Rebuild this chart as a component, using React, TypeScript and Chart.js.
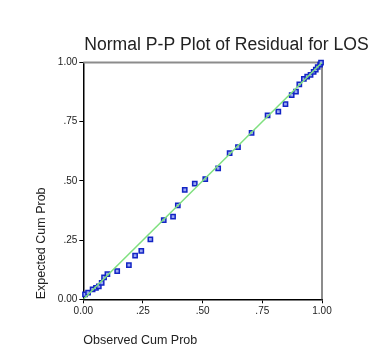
import React, { useEffect, useRef } from "react";
import { Chart, registerables } from "chart.js";

Chart.register(...registerables);

const TITLE = "Normal P-P Plot of Residual for LOS";
const X_TITLE = "Observed Cum Prob";
const Y_TITLE = "Expected Cum Prob";
const TICK_VALUES = [0, 0.25, 0.5, 0.75, 1];
const TICK_LABELS = ["0.00", ".25", ".50", ".75", "1.00"];

const OBSERVED = [
  0.007, 0.02, 0.039, 0.053, 0.065, 0.077, 0.087, 0.101, 0.142, 0.191,
  0.217, 0.243, 0.281, 0.337, 0.376, 0.396, 0.425, 0.467, 0.511, 0.565,
  0.613, 0.648, 0.705, 0.772, 0.817, 0.847, 0.873, 0.891, 0.905, 0.924,
  0.938, 0.952, 0.965, 0.974, 0.982, 0.992, 0.996,
];
const EXPECTED = [
  0.021, 0.028, 0.042, 0.048, 0.055, 0.069, 0.093, 0.106, 0.119, 0.144,
  0.184, 0.204, 0.253, 0.334, 0.349, 0.397, 0.462, 0.489, 0.508, 0.553,
  0.617, 0.643, 0.703, 0.777, 0.793, 0.824, 0.862, 0.877, 0.908, 0.931,
  0.94, 0.948, 0.96, 0.97, 0.981, 0.991, 0.999,
];
const LINE_X = [0, 1];
const LINE_Y = [0, 1];

const FONT = "Arial, 'Liberation Sans', sans-serif";

export default function App() {
  const ref = useRef<HTMLCanvasElement | null>(null);

  useEffect(() => {
    if (!ref.current) return;
    const framePlugin = {
      id: "frameAndTitle",
      beforeDatasetsDraw(chart: any) {
        const { ctx, chartArea } = chart;
        ctx.save();
        ctx.strokeStyle = "#8c8c8c";
        ctx.lineWidth = 2;
        ctx.beginPath();
        ctx.moveTo(chartArea.left, chartArea.top);
        ctx.lineTo(chartArea.right, chartArea.top);
        ctx.lineTo(chartArea.right, chartArea.bottom);
        ctx.stroke();
        ctx.restore();
      },
      afterDraw(chart: any) {
        const { ctx } = chart;
        ctx.save();
        ctx.fillStyle = "#222";
        ctx.font = `17.6px ${FONT}`;
        ctx.textAlign = "center";
        ctx.textBaseline = "alphabetic";
        ctx.fillText(TITLE, 226.5, 49.5);
        ctx.restore();
      },
    };

    const chart = new Chart(ref.current, {
      type: "scatter",
      data: {
        datasets: [
          {
            type: "line",
            data: LINE_X.map((x, i) => ({ x, y: LINE_Y[i] })),
            borderColor: "#7fe07f",
            borderWidth: 1.5,
            pointRadius: 0,
            fill: false,
          } as any,
          {
            data: OBSERVED.map((x, i) => ({ x, y: EXPECTED[i] })),
            pointStyle: "rect",
            pointRadius: 3,
            backgroundColor: "#9aa6f2",
            borderColor: "#1224c4",
            borderWidth: 1.5,
            clip: false,
          } as any,
        ],
      },
      options: {
        animation: false,
        responsive: false,
        events: [],
        layout: { padding: { top: 62.5, right: 61, left: 0, bottom: 0 } },
        plugins: {
          legend: { display: false },
          tooltip: { enabled: false },
          title: { display: false },
        },
        scales: {
          x: {
            type: "linear",
            min: 0,
            max: 1,
            afterFit: (s: any) => {
              s.height = 60.7;
            },
            afterBuildTicks: (s: any) => {
              s.ticks = TICK_VALUES.map((v) => ({ value: v }));
            },
            ticks: {
              callback: (v: any) => TICK_LABELS[TICK_VALUES.indexOf(Number(v))] ?? "",
              color: "#222",
              font: { family: FONT, size: 10 },
              padding: 2,
              maxRotation: 0,
            },
            grid: {
              display: true,
              drawOnChartArea: false,
              drawTicks: true,
              tickLength: 4,
              color: "#000",
            },
            border: { display: true, color: "#000", width: 1.5 },
            title: {
              display: true,
              text: X_TITLE,
              align: "start",
              color: "#222",
              font: { family: FONT, size: 12.5 },
              padding: { top: 0, bottom: 12 },
            },
          },
          y: {
            type: "linear",
            min: 0,
            max: 1,
            afterFit: (s: any) => {
              s.width = 83.3;
            },
            afterBuildTicks: (s: any) => {
              s.ticks = TICK_VALUES.map((v) => ({ value: v }));
            },
            ticks: {
              callback: (v: any) => TICK_LABELS[TICK_VALUES.indexOf(Number(v))] ?? "",
              color: "#222",
              font: { family: FONT, size: 10 },
              padding: 2,
            },
            grid: {
              display: true,
              drawOnChartArea: false,
              drawTicks: true,
              tickLength: 4,
              color: "#000",
            },
            border: { display: true, color: "#000", width: 1.5 },
            title: {
              display: true,
              text: Y_TITLE,
              align: "start",
              color: "#222",
              font: { family: FONT, size: 12.5 },
              padding: { top: 34.5, bottom: 0 },
            },
          },
        },
      } as any,
      plugins: [framePlugin],
    });
    return () => chart.destroy();
  }, []);

  return (
    <div style={{ position: "absolute", left: 0, top: 0, width: 383, height: 360, background: "#fff" }}>
      <canvas ref={ref} width={383} height={360} style={{ display: "block", width: 383, height: 360 }} />
    </div>
  );
}
